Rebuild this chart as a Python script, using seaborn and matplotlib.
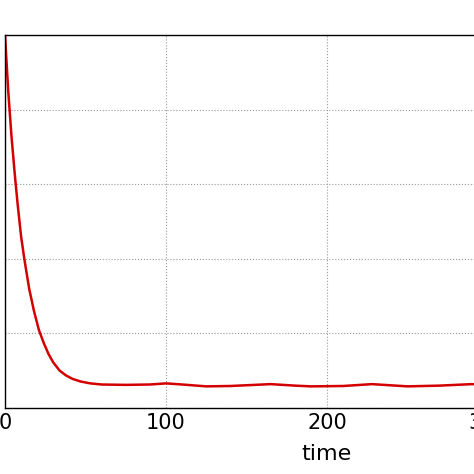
import matplotlib
matplotlib.use("Agg")
import matplotlib.pyplot as plt
import seaborn as sns
import pandas as pd

sns.set_style("white")
plt.rcParams['font.family'] = ['DejaVu Sans']

time = [0, 2, 4, 6, 8, 10, 12, 15, 18, 21, 24, 27, 30, 34, 38, 42, 47, 53, 60, 75, 90, 100, 110, 125, 140, 165, 180, 190, 210, 228, 250, 270, 290, 310, 330]
value = [1.0, 0.85, 0.73, 0.63, 0.54, 0.46, 0.40, 0.32, 0.26, 0.21, 0.175, 0.145, 0.122, 0.10, 0.087, 0.078, 0.071, 0.066, 0.063, 0.062, 0.063, 0.066, 0.063, 0.058, 0.059, 0.064, 0.060, 0.058, 0.059, 0.064, 0.058, 0.060, 0.064, 0.060, 0.062]
df = pd.DataFrame({"time": time, "value": value})

fig = plt.figure(figsize=(4.74, 4.74), dpi=100)
ax = fig.add_axes([5/474, 66/474, 644/474, 373/474])
sns.lineplot(data=df, x="time", y="value", ax=ax, color="#d40000", linewidth=1.8)
ax.set_xlim(0, 400)
ax.set_ylim(0, 1)
ax.set_xticks([0, 100, 200, 300, 400])
ax.set_yticks([0, 0.2, 0.4, 0.6, 0.8, 1.0])
ax.grid(True, linestyle=":", color="#999999", linewidth=0.8)
ax.tick_params(axis="x", labelsize=15, direction="in", length=5, labelcolor="black")
ax.tick_params(axis="y", labelleft=False, direction="in", length=5)
ax.set_xlabel("time", fontsize=16, labelpad=8, color="black")
ax.set_ylabel("")
for s in ax.spines.values():
    s.set_color("black")
    s.set_linewidth(1)
fig.savefig("out.png", dpi=100)
